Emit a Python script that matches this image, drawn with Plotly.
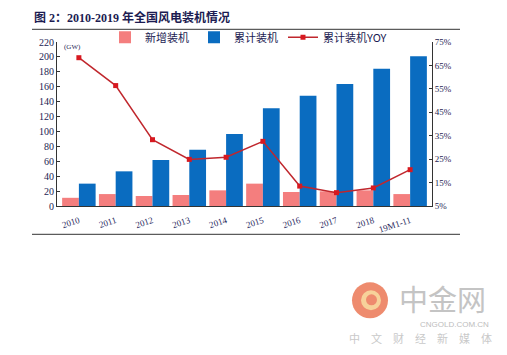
import plotly.graph_objects as go

categories = ["2010", "2011", "2012", "2013", "2014", "2015", "2016", "2017", "2018", "19M1-11"]
new_install = [11, 16, 13.4, 14.8, 21, 30, 18.8, 19.7, 21, 16]
cum_install = [30, 46.5, 61.7, 75.6, 96.6, 131, 148, 163.8, 184, 201]
cum_yoy = [68.3, 56.4, 33.3, 24.9, 25.8, 32.6, 13.5, 10.7, 12.7, 20.5]
left_ticks = list(range(0, 221, 20))
right_ticks = list(range(5, 76, 10))

W, H = 507, 355
L, R, T, B = 57, 432, 41.7, 205.7

def px(x):
    return (x - L) / (R - L)

def py(y):
    return (B - y) / (B - T)

navy = "#1c1c52"
serif = "Liberation Serif, Times New Roman, serif"
cjk = "Noto Sans CJK SC"

fig = go.Figure()
fig.add_trace(go.Bar(x=categories, y=new_install, name="新增装机", marker_color="#F47E7E",
                     marker_line_width=0))
fig.add_trace(go.Bar(x=categories, y=cum_install, name="累计装机", marker_color="#0A6CC0",
                     marker_line_width=0))
fig.add_trace(go.Scatter(x=categories, y=cum_yoy, name="累计装机YOY", yaxis="y2",
                         mode="lines+markers",
                         line=dict(color="#C0272D", width=1.5),
                         marker=dict(symbol="square", size=5, color="#D71920")))

fig.update_layout(
    width=W, height=H,
    margin=dict(l=L, r=W - R, t=T, b=H - B, pad=0),
    paper_bgcolor="white", plot_bgcolor="white",
    barmode="group", bargap=0.09, bargroupgap=0,
    showlegend=True,
    legend=dict(orientation="h", x=px(105), y=py(37), xanchor="left", yanchor="middle",
                font=dict(family=cjk, size=11, color=navy),
                bgcolor="rgba(0,0,0,0)", itemwidth=30, tracegroupgap=0),
    xaxis=dict(type="category", showline=True, linecolor="#333", linewidth=1,
               ticks="", tickangle=-18, ticklabelstandoff=5,
               tickfont=dict(family=serif, size=9, color="#2a2a60"), showgrid=False,
               zeroline=False),
    yaxis=dict(range=[0, 220], tickvals=left_ticks, showline=True, linecolor="#333",
               linewidth=1, ticks="inside", ticklen=3, tickcolor="#333",
               tickfont=dict(family=serif, size=10, color=navy), showgrid=False,
               zeroline=False),
    yaxis2=dict(range=[5, 75], tickvals=right_ticks, ticktext=[f"{v}%" for v in right_ticks],
                overlaying="y", side="right", showline=True, linecolor="#333", linewidth=1,
                ticks="inside", ticklen=3, tickcolor="#333",
                tickfont=dict(family=serif, size=9, color=navy), showgrid=False,
                zeroline=False),
)

# title and rules
fig.add_annotation(text="<b>图 2：2010-2019 年全国风电装机情况</b>", xref="paper", yref="paper",
                   x=px(32), y=py(17), xanchor="left", yanchor="middle", showarrow=False,
                   font=dict(family="Liberation Serif, " + cjk, size=12, color=navy))
fig.add_shape(type="line", xref="paper", yref="paper", x0=px(32), x1=px(460), y0=py(29), y1=py(29),
              line=dict(color="#333", width=1))
fig.add_shape(type="line", xref="paper", yref="paper", x0=px(32), x1=px(460), y0=py(234), y1=py(234),
              line=dict(color="#333", width=1))
fig.add_annotation(text="(GW)", xref="paper", yref="paper", x=px(62), y=py(47),
                   xanchor="left", yanchor="middle", showarrow=False,
                   font=dict(family=serif, size=7, color=navy))

# watermark
fig.add_shape(type="circle", xref="paper", yref="paper", x0=px(352), x1=px(388), y0=py(282), y1=py(318),
              fillcolor="#EE8B6E", line=dict(width=0), layer="above")
fig.add_shape(type="circle", xref="paper", yref="paper", x0=px(361), x1=px(381), y0=py(290), y1=py(310),
              fillcolor="#F7D29A", line=dict(width=0), layer="above")
fig.add_shape(type="circle", xref="paper", yref="paper", x0=px(366), x1=px(377), y0=py(294), y1=py(305),
              fillcolor="#EE8B6E", line=dict(width=0), layer="above")
fig.add_annotation(text="中金网", xref="paper", yref="paper", x=px(442), y=py(298),
                   xanchor="center", yanchor="middle", showarrow=False,
                   font=dict(family=cjk, size=29, color="#C4C4C4"))
fig.add_annotation(text="CNGOLD.COM.CN", xref="paper", yref="paper", x=px(455), y=py(324),
                   xanchor="center", yanchor="middle", showarrow=False,
                   font=dict(family="Liberation Sans", size=8, color="#BDBDBD"))
fig.add_annotation(text="\u3000".join("中文财经新媒体"), xref="paper", yref="paper", x=px(420), y=py(338),
                   xanchor="center", yanchor="middle", showarrow=False,
                   font=dict(family=cjk, size=11, color="#C9C9C9"))

fig.write_html("out.html")
